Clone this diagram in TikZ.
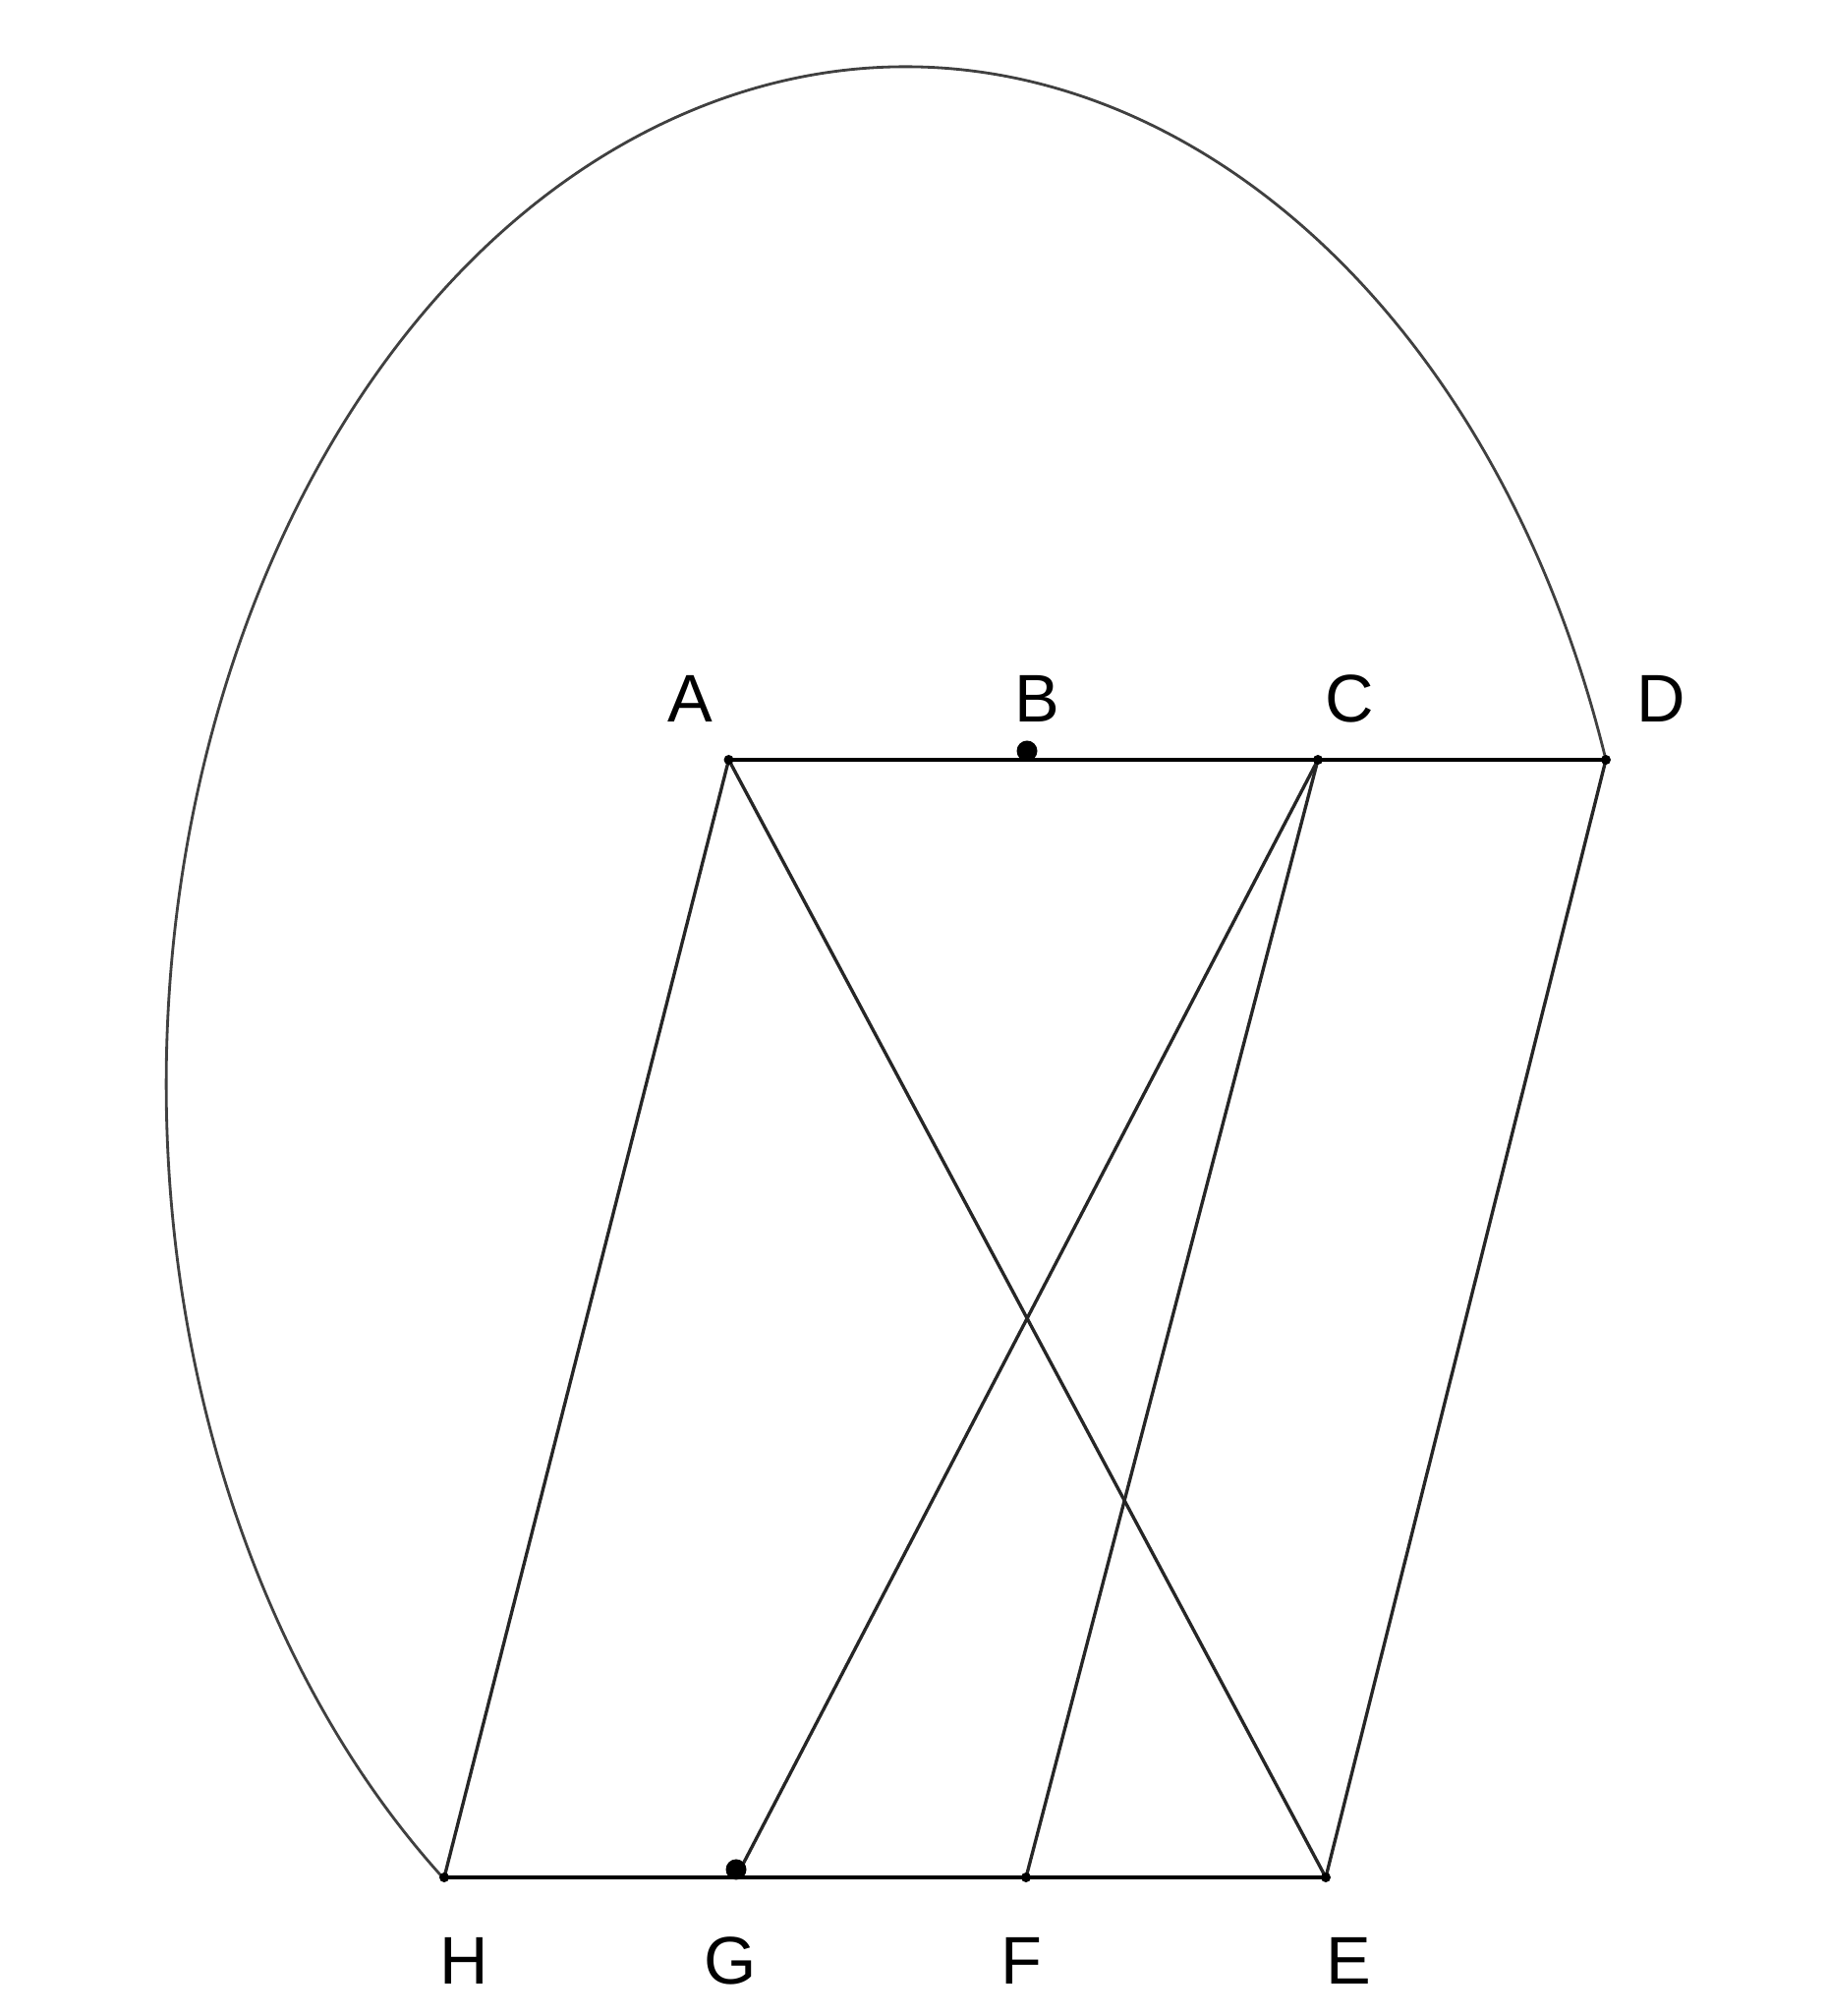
\documentclass[tikz,border=0pt]{standalone}
\usepackage{fontspec}
\setmainfont{Liberation Sans}
\begin{document}
\begin{tikzpicture}[
  hline/.style={line width=1.3pt, black},
  sline/.style={line width=0.95pt, black!85},
  curve/.style={line width=0.8pt, black!75},
  bigdot/.style={circle, fill=black, inner sep=0pt, minimum size=0.21cm},
  smalldot/.style={circle, fill=black, inner sep=0pt, minimum size=0.1cm},
  lab/.style={font=\fontsize{19.5}{22}\selectfont, inner sep=0pt}
]
\useasboundingbox (0,0) rectangle (18.59,20.51);
% points
\coordinate (A) at (7.415,12.78);
\coordinate (C) at (13.41,12.78);
\coordinate (D) at (16.34,12.78);
\coordinate (H) at (4.52,1.41);
\coordinate (F) at (10.44,1.41);
\coordinate (E) at (13.49,1.41);
\coordinate (Gp) at (7.49,1.41);
% ellipse arc from D round to H
\draw[curve] (D) arc[start angle=18.6, end angle=231.3, x radius=7.52, y radius=10.35];
% horizontal lines
\draw[hline] (A) -- (D);
\draw[hline] (H) -- (E);
% slanted lines
\draw[sline] (A) -- (H);
\draw[sline] (A) -- (E);
\draw[sline] (C) -- (Gp);
\draw[sline] (C) -- (F);
\draw[sline] (D) -- (E);
% dots
\node[bigdot] (B) at (10.45,12.87) {};
\node[bigdot] (G) at (7.49,1.49) {};
\foreach \p in {A,C,D,H,F,E} \node[smalldot] at (\p) {};
% labels
\node[lab] (lA) at (7.02,13.40) {A};
\node[lab] (lB) at (10.55,13.40) {B};
\node[lab] (lC) at (13.73,13.40) {C};
\node[lab] (lD) at (16.90,13.40) {D};
\node[lab] (lH) at (4.72,0.56) {H};
\node[lab] (lG) at (7.43,0.56) {G};
\node[lab] (lF) at (10.39,0.56) {F};
\node[lab] (lE) at (13.72,0.56) {E};
\end{tikzpicture}
\end{document}
